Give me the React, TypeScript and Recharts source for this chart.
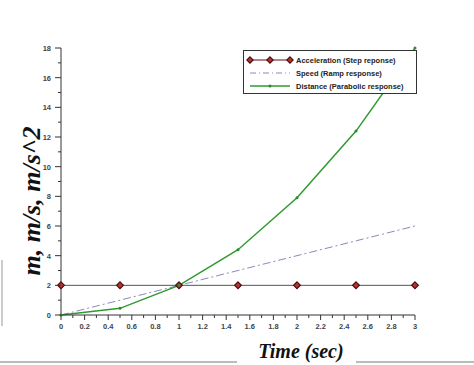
import { LineChart, Line, XAxis, YAxis } from 'recharts';

// time samples (s)
const times = [0, 0.5, 1, 1.5, 2, 2.5, 3];
const acceleration = [2, 2, 2, 2, 2, 2, 2];
const speed = [0, 1, 2, 3, 4, 5, 6];
const distance = [0, 0.45, 2, 4.4, 7.9, 12.4, 18];

const xTicks = Array.from({ length: 31 }, (_, i) => Math.round(i) / 10);
const yTicks = Array.from({ length: 19 }, (_, i) => i);

const legendNames = [
    'Acceleration (Step reponse)',
    'Speed (Ramp response)',
    'Distance (Parabolic response)',
];

const data = times.map((t, i) => ({
    t,
    acc: acceleration[i],
    speed: speed[i],
    dist: distance[i],
}));

const tickFont = { fontFamily: 'Liberation Sans, Arial, sans-serif', fontSize: 7.5, fontWeight: 'bold' as const, fill: '#444' };

const XTick = (props: any) => {
    const { x, y, payload } = props;
    const v = Math.round(payload.value * 10);
    const major = v % 2 === 0;
    return (
        <g>
            <line x1={x} x2={x} y1={y} y2={y + (major ? 5 : 3)} stroke="#333" strokeWidth={1} />
            {major && (
                <text x={x} y={y + 14} textAnchor="middle" {...tickFont}>
                    {Number((v / 10).toFixed(1)).toString()}
                </text>
            )}
        </g>
    );
};

const YTick = (props: any) => {
    const { x, y, payload } = props;
    const v = payload.value;
    const major = v % 2 === 0;
    return (
        <g>
            <line x1={x} x2={x - (major ? 6 : 3)} y1={y} y2={y} stroke="#333" strokeWidth={1} />
            {major && (
                <text x={x - 10} y={y + 3} textAnchor="end" {...tickFont}>
                    {v}
                </text>
            )}
        </g>
    );
};

const diamond = (cx: number, cy: number, s: number) =>
    `${cx},${cy - s} ${cx + s},${cy} ${cx},${cy + s} ${cx - s},${cy}`;

const Marker = (props: any) => {
    const { cx, cy } = props;
    if (cx == null || cy == null) return null;
    return <polygon points={diamond(cx, cy, 3.4)} fill="#b83232" stroke="#4a0c0c" strokeWidth={1.2} />;
};

const SmallDot = (props: any) => {
    const { cx, cy } = props;
    if (cx == null || cy == null) return null;
    return <circle cx={cx} cy={cy} r={1.5} fill="#2f8a2f" />;
};

function LegendBox() {
    const rowY = [9, 22, 35];
    return (
        <div style={{
            position: 'absolute', left: 243, top: 50, width: 174, height: 44,
            background: '#fff', border: '1px solid #333', boxSizing: 'border-box',
        }}>
            <svg width={172} height={42} style={{ display: 'block' }}>
                <line x1={6} x2={46} y1={rowY[0]} y2={rowY[0]} stroke="#5a1010" strokeWidth={1} />
                {[6, 26, 46].map(cx => (
                    <polygon key={cx} points={diamond(cx, rowY[0], 3.2)} fill="#b83232" stroke="#4a0c0c" strokeWidth={1.1} />
                ))}
                <line x1={6} x2={46} y1={rowY[1]} y2={rowY[1]} stroke="#8a8ab8" strokeWidth={1} strokeDasharray="6 3 1 3" />
                <line x1={6} x2={46} y1={rowY[2]} y2={rowY[2]} stroke="#2f9a2f" strokeWidth={1.5} />
                <circle cx={26} cy={rowY[2]} r={1.5} fill="#2f8a2f" />
                {legendNames.map((n, i) => (
                    <text key={n} x={52} y={rowY[i] + 3} {...tickFont} fill="#222">{n}</text>
                ))}
            </svg>
        </div>
    );
}

export default function App() {
    return (
        <div style={{ position: 'fixed', left: 0, top: 0, width: 474, height: 365, background: '#fff', overflow: 'hidden' }}>
            <LineChart width={474} height={365} data={data} margin={{ top: 48, right: 59, bottom: 49, left: 60 }}>
                <XAxis
                    dataKey="t"
                    type="number"
                    domain={[0, 3]}
                    ticks={xTicks}
                    height={1}
                    tickSize={0}
                    tickMargin={0}
                    tickLine={false}
                    tick={<XTick />}
                    axisLine={{ stroke: '#333', strokeWidth: 1 }}
                    interval={0}
                />
                <YAxis
                    type="number"
                    domain={[0, 18]}
                    ticks={yTicks}
                    width={1}
                    tickSize={0}
                    tickMargin={0}
                    tickLine={false}
                    tick={<YTick />}
                    axisLine={{ stroke: '#333', strokeWidth: 1 }}
                    interval={0}
                />
                <Line dataKey="acc" stroke="#555" strokeWidth={1} dot={<Marker />} isAnimationActive={false} />
                <Line dataKey="speed" stroke="#8a8ab8" strokeWidth={1} strokeDasharray="8 3 2 3" dot={false} isAnimationActive={false} />
                <Line dataKey="dist" stroke="#2f9a2f" strokeWidth={1.5} dot={<SmallDot />} isAnimationActive={false} />
            </LineChart>
            <LegendBox />
            <div style={{
                position: 'absolute', left: 32, top: 201, transform: 'translate(-50%, -50%) rotate(-90deg)',
                fontFamily: 'Liberation Serif, Times New Roman, serif', fontWeight: 'bold', fontStyle: 'italic',
                fontSize: 26, whiteSpace: 'nowrap', color: '#111',
            }}>
                m, m/s, m/s^2
            </div>
            <div style={{
                position: 'absolute', left: 301, top: 351, transform: 'translate(-50%, -50%)',
                fontFamily: 'Liberation Serif, Times New Roman, serif', fontWeight: 'bold', fontStyle: 'italic',
                fontSize: 20, whiteSpace: 'nowrap', color: '#111',
            }}>
                Time (sec)
            </div>
            <div style={{ position: 'absolute', left: 0, top: 361, width: 237, height: 2, background: '#bbb' }} />
            <div style={{ position: 'absolute', left: 356, top: 361, width: 118, height: 2, background: '#bbb' }} />
            <div style={{ position: 'absolute', left: 1, top: 260, width: 2, height: 66, background: '#ccc' }} />
        </div>
    );
}
